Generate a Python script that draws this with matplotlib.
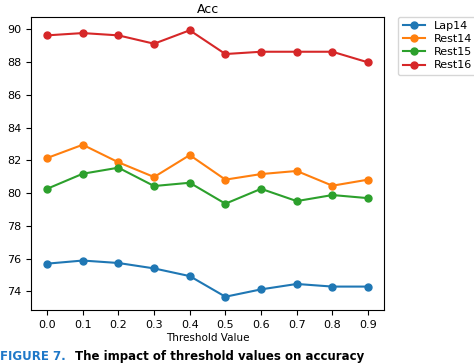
import numpy as np
import matplotlib
matplotlib.use("Agg")
import matplotlib.pyplot as plt

thresholds = [0.0, 0.1, 0.2, 0.3, 0.4, 0.5, 0.6, 0.7, 0.8, 0.9]
lap14 = [75.69, 75.88, 75.73, 75.40, 74.93, 73.67, 74.12, 74.45, 74.29, 74.29]
rest14 = [82.14, 82.95, 81.88, 80.98, 82.32, 80.82, 81.16, 81.35, 80.45, 80.82]
rest15 = [80.26, 81.18, 81.55, 80.43, 80.63, 79.35, 80.26, 79.51, 79.88, 79.69]
rest16 = [89.63, 89.77, 89.63, 89.12, 89.94, 88.49, 88.63, 88.63, 88.63, 87.98]
series_names = ['Lap14', 'Rest14', 'Rest15', 'Rest16']

plt.rcParams['font.size'] = 8
fig = plt.figure(figsize=(4.74, 3.63), dpi=100)
ax = fig.add_axes([0.0654, 0.146, 0.745, 0.808])

for vals, name in zip([lap14, rest14, rest15, rest16], series_names):
    ax.plot(thresholds, vals, marker='o', markersize=5, label=name)

ax.set_title('Acc', fontsize=9, pad=3)
ax.set_xlabel('Threshold Value', fontsize=7.5, labelpad=2)
ax.set_xticks(thresholds)
ax.set_xlim(-0.045, 0.945)
ax.set_ylim(72.86, 90.77)
ax.set_yticks([74, 76, 78, 80, 82, 84, 86, 88, 90])
ax.legend(loc='upper left', bbox_to_anchor=(1.04, 1.0), borderaxespad=0,
          fontsize=8, labelspacing=0.28)

# figure caption at the bottom edge
fig.text(0.0, 0.009, 'FIGURE 7.', color='#1f78c8', fontweight='bold', fontsize=8.5,
         va='baseline')
fig.text(0.158, 0.009, 'The impact of threshold values on accuracy', fontweight='bold',
         fontsize=8.5, va='baseline')

fig.savefig('out.png', dpi=100)
